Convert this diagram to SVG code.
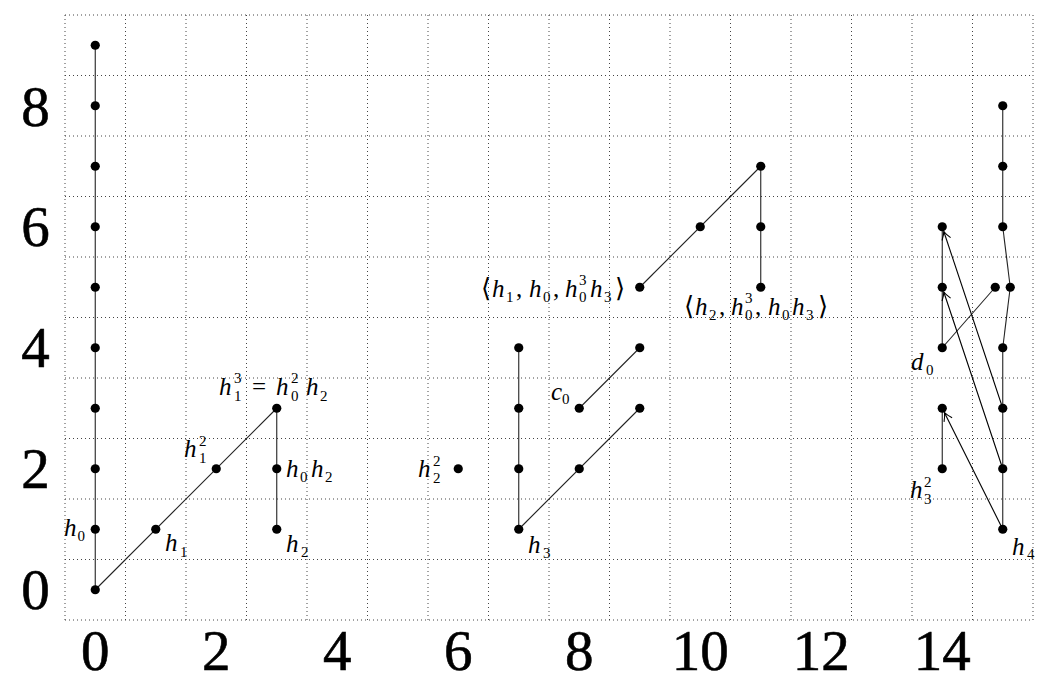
<svg xmlns="http://www.w3.org/2000/svg" width="1052" height="685" viewBox="0 0 1052 685">
<style>
.grid line{stroke:#444;stroke-width:1;stroke-dasharray:1 3}
.ax{font-family:"Liberation Serif","DejaVu Serif",serif;font-size:57px;fill:#000;stroke:#000;stroke-width:0.6;text-anchor:middle}
.dot{fill:#000}
.conn line{stroke:#222;stroke-width:1.1;fill:none}
.conn .arr{stroke:#000;stroke-width:1.1;marker-end:url(#ah)}
.lb{font-family:"Liberation Serif","DejaVu Serif",serif;font-size:25px;fill:#000}
.i{font-style:italic}
.s{font-size:15px;font-style:normal}
.br{font-family:"DejaVu Serif","DejaVu Sans",serif;font-size:26px;font-style:normal}
</style>
<defs>
<marker id="ah" markerUnits="userSpaceOnUse" markerWidth="16" markerHeight="16" refX="0" refY="0" viewBox="-10 -8 12 16" orient="auto">
<path d="M-8,-4.5 Q-3,-1 0,0 Q-3,1 -8,4.5" fill="none" stroke="#000" stroke-width="1.1"/>
</marker>
</defs>
<rect width="1052" height="685" fill="#fff"/>
<g class="grid">
<line x1="65" y1="15" x2="65" y2="620"/><line x1="125.5" y1="15" x2="125.5" y2="620"/><line x1="186" y1="15" x2="186" y2="620"/><line x1="246.5" y1="15" x2="246.5" y2="620"/><line x1="307" y1="15" x2="307" y2="620"/><line x1="367.5" y1="15" x2="367.5" y2="620"/><line x1="428" y1="15" x2="428" y2="620"/><line x1="488.5" y1="15" x2="488.5" y2="620"/><line x1="549" y1="15" x2="549" y2="620"/><line x1="609.5" y1="15" x2="609.5" y2="620"/><line x1="670" y1="15" x2="670" y2="620"/><line x1="730.5" y1="15" x2="730.5" y2="620"/><line x1="791" y1="15" x2="791" y2="620"/><line x1="851.5" y1="15" x2="851.5" y2="620"/><line x1="912" y1="15" x2="912" y2="620"/><line x1="972.5" y1="15" x2="972.5" y2="620"/><line x1="1033" y1="15" x2="1033" y2="620"/>
<line x1="65" y1="15" x2="1033" y2="15"/><line x1="65" y1="75.5" x2="1033" y2="75.5"/><line x1="65" y1="136" x2="1033" y2="136"/><line x1="65" y1="196.5" x2="1033" y2="196.5"/><line x1="65" y1="257" x2="1033" y2="257"/><line x1="65" y1="317.5" x2="1033" y2="317.5"/><line x1="65" y1="378" x2="1033" y2="378"/><line x1="65" y1="438.5" x2="1033" y2="438.5"/><line x1="65" y1="499" x2="1033" y2="499"/><line x1="65" y1="559.5" x2="1033" y2="559.5"/><line x1="65" y1="620" x2="1033" y2="620"/>
</g>
<g id="axis-labels">
<text class="ax" x="95.25" y="670">0</text><text class="ax" x="216.25" y="670">2</text><text class="ax" x="337.25" y="670">4</text><text class="ax" x="458.25" y="670">6</text><text class="ax" x="579.25" y="670">8</text><text class="ax" x="700.25" y="670">10</text><text class="ax" x="821.25" y="670">12</text><text class="ax" x="942.25" y="670">14</text>
<text class="ax" x="35.5" y="609">0</text><text class="ax" x="35.5" y="488">2</text><text class="ax" x="35.5" y="367">4</text><text class="ax" x="35.5" y="246">6</text><text class="ax" x="35.5" y="126">8</text>
</g>
<g class="conn" id="connectors">
<line x1="95.25" y1="589.75" x2="95.25" y2="45.25"/>
<line x1="95.25" y1="589.75" x2="276.75" y2="408.25"/>
<line x1="276.75" y1="529.25" x2="276.75" y2="408.25"/>
<line x1="518.75" y1="529.25" x2="518.75" y2="347.75"/>
<line x1="518.75" y1="529.25" x2="639.75" y2="408.25"/>
<line x1="579.25" y1="408.25" x2="639.75" y2="347.75"/>
<line x1="639.75" y1="287.25" x2="760.75" y2="166.25"/>
<line x1="760.75" y1="287.25" x2="760.75" y2="166.25"/>
<line x1="942.25" y1="468.75" x2="942.25" y2="408.25"/>
<line x1="942.25" y1="347.75" x2="942.25" y2="226.75"/>
<line x1="942.25" y1="347.75" x2="995.25" y2="287.25"/>
<line x1="1002.75" y1="529.25" x2="1002.75" y2="347.75"/>
<line x1="1002.75" y1="347.75" x2="1010.25" y2="287.25"/>
<line x1="1010.25" y1="287.25" x2="1002.75" y2="226.75"/>
<line x1="1002.75" y1="226.75" x2="1002.75" y2="105.75"/>
<line class="arr" x1="1002.75" y1="529.25" x2="944.5" y2="412.7"/>
<line class="arr" x1="1002.75" y1="468.75" x2="943.8" y2="292"/>
<line class="arr" x1="1002.75" y1="408.25" x2="943.8" y2="231.5"/>
</g>
<g id="n-0-0"><circle class="dot" cx="95.25" cy="589.75" r="4.6"/></g>
<g id="n-0-1"><circle class="dot" cx="95.25" cy="529.25" r="4.6"/><text class="lb"><tspan class="i" x="64" y="536">h</tspan><tspan class="s" x="77.5" y="541">0</tspan></text></g>
<g id="n-0-2"><circle class="dot" cx="95.25" cy="468.75" r="4.6"/></g>
<g id="n-0-3"><circle class="dot" cx="95.25" cy="408.25" r="4.6"/></g>
<g id="n-0-4"><circle class="dot" cx="95.25" cy="347.75" r="4.6"/></g>
<g id="n-0-5"><circle class="dot" cx="95.25" cy="287.25" r="4.6"/></g>
<g id="n-0-6"><circle class="dot" cx="95.25" cy="226.75" r="4.6"/></g>
<g id="n-0-7"><circle class="dot" cx="95.25" cy="166.25" r="4.6"/></g>
<g id="n-0-8"><circle class="dot" cx="95.25" cy="105.75" r="4.6"/></g>
<g id="n-0-9"><circle class="dot" cx="95.25" cy="45.25" r="4.6"/></g>
<g id="n-1-1"><circle class="dot" cx="155.75" cy="529.25" r="4.6"/><text class="lb"><tspan class="i" x="165" y="551">h</tspan><tspan class="s" x="180" y="557">1</tspan></text></g>
<g id="n-2-2"><circle class="dot" cx="216.25" cy="468.75" r="4.6"/><text class="lb"><tspan class="i" x="184" y="457">h</tspan><tspan class="s" x="199" y="446">2</tspan><tspan class="s" x="199" y="463">1</tspan></text></g>
<g id="n-3-1"><circle class="dot" cx="276.75" cy="529.25" r="4.6"/><text class="lb"><tspan class="i" x="286" y="552">h</tspan><tspan class="s" x="301" y="557">2</tspan></text></g>
<g id="n-3-2"><circle class="dot" cx="276.75" cy="468.75" r="4.6"/><text class="lb"><tspan class="i" x="286" y="477">h</tspan><tspan class="s" x="300" y="482">0</tspan><tspan class="i" x="311" y="477">h</tspan><tspan class="s" x="325" y="482">2</tspan></text></g>
<g id="n-3-3"><circle class="dot" cx="276.75" cy="408.25" r="4.6"/><text class="lb"><tspan class="i" x="219" y="395">h</tspan><tspan class="s" x="234" y="383">3</tspan><tspan class="s" x="234" y="401">1</tspan><tspan x="252" y="395">=</tspan><tspan class="i" x="276" y="395">h</tspan><tspan class="s" x="291" y="383">2</tspan><tspan class="s" x="291" y="401">0</tspan><tspan class="i" x="306" y="395">h</tspan><tspan class="s" x="320" y="401">2</tspan></text></g>
<g id="n-6-2"><circle class="dot" cx="458.25" cy="468.75" r="4.6"/><text class="lb"><tspan class="i" x="418" y="477">h</tspan><tspan class="s" x="433" y="466">2</tspan><tspan class="s" x="433" y="483">2</tspan></text></g>
<g id="n-7-1"><circle class="dot" cx="518.75" cy="529.25" r="4.6"/><text class="lb"><tspan class="i" x="528" y="553">h</tspan><tspan class="s" x="543" y="558">3</tspan></text></g>
<g id="n-7-2"><circle class="dot" cx="518.75" cy="468.75" r="4.6"/></g>
<g id="n-7-3"><circle class="dot" cx="518.75" cy="408.25" r="4.6"/></g>
<g id="n-7-4"><circle class="dot" cx="518.75" cy="347.75" r="4.6"/></g>
<g id="n-8-2"><circle class="dot" cx="579.25" cy="468.75" r="4.6"/></g>
<g id="n-8-3"><circle class="dot" cx="579.25" cy="408.25" r="4.6"/><text class="lb"><tspan class="i" x="551" y="400">c</tspan><tspan class="s" x="562" y="404">0</tspan></text></g>
<g id="n-9-3"><circle class="dot" cx="639.75" cy="408.25" r="4.6"/></g>
<g id="n-9-4"><circle class="dot" cx="639.75" cy="347.75" r="4.6"/></g>
<g id="n-9-5"><circle class="dot" cx="639.75" cy="287.25" r="4.6"/><text class="lb"><tspan class="br" x="481" y="297">⟨</tspan><tspan class="i" x="492" y="297">h</tspan><tspan class="s" x="506" y="302">1</tspan><tspan x="516" y="297">,</tspan><tspan class="i" x="529" y="297">h</tspan><tspan class="s" x="543" y="302">0</tspan><tspan x="553" y="297">,</tspan><tspan class="i" x="565" y="297">h</tspan><tspan class="s" x="579" y="285">3</tspan><tspan class="s" x="579" y="302">0</tspan><tspan class="i" x="590" y="297">h</tspan><tspan class="s" x="604" y="302">3</tspan><tspan class="br" x="615" y="297">⟩</tspan></text></g>
<g id="n-10-6"><circle class="dot" cx="700.25" cy="226.75" r="4.6"/></g>
<g id="n-11-5"><circle class="dot" cx="760.75" cy="287.25" r="4.6"/><text class="lb"><tspan class="br" x="684" y="315">⟨</tspan><tspan class="i" x="695" y="315">h</tspan><tspan class="s" x="709" y="320">2</tspan><tspan x="719" y="315">,</tspan><tspan class="i" x="731" y="315">h</tspan><tspan class="s" x="745" y="303">3</tspan><tspan class="s" x="745" y="320">0</tspan><tspan x="755" y="315">,</tspan><tspan class="i" x="768" y="315">h</tspan><tspan class="s" x="782" y="320">0</tspan><tspan class="i" x="792" y="315">h</tspan><tspan class="s" x="806" y="320">3</tspan><tspan class="br" x="818" y="315">⟩</tspan></text></g>
<g id="n-11-6"><circle class="dot" cx="760.75" cy="226.75" r="4.6"/></g>
<g id="n-11-7"><circle class="dot" cx="760.75" cy="166.25" r="4.6"/></g>
<g id="n-14-2"><circle class="dot" cx="942.25" cy="468.75" r="4.6"/><text class="lb"><tspan class="i" x="910" y="498">h</tspan><tspan class="s" x="924" y="487">2</tspan><tspan class="s" x="924" y="504">3</tspan></text></g>
<g id="n-14-3"><circle class="dot" cx="942.25" cy="408.25" r="4.6"/></g>
<g id="n-14-4"><circle class="dot" cx="942.25" cy="347.75" r="4.6"/><text class="lb"><tspan class="i" x="911" y="370">d</tspan><tspan class="s" x="926" y="375">0</tspan></text></g>
<g id="n-14-5"><circle class="dot" cx="942.25" cy="287.25" r="4.6"/></g>
<g id="n-14-6"><circle class="dot" cx="942.25" cy="226.75" r="4.6"/></g>
<g id="n-15-1"><circle class="dot" cx="1002.75" cy="529.25" r="4.6"/><text class="lb"><tspan class="i" x="1012" y="555">h</tspan><tspan class="s" x="1027" y="559">4</tspan></text></g>
<g id="n-15-2"><circle class="dot" cx="1002.75" cy="468.75" r="4.6"/></g>
<g id="n-15-3"><circle class="dot" cx="1002.75" cy="408.25" r="4.6"/></g>
<g id="n-15-4"><circle class="dot" cx="1002.75" cy="347.75" r="4.6"/></g>
<g id="n-15-5a"><circle class="dot" cx="995.25" cy="287.25" r="4.6"/></g>
<g id="n-15-5b"><circle class="dot" cx="1010.25" cy="287.25" r="4.6"/></g>
<g id="n-15-6"><circle class="dot" cx="1002.75" cy="226.75" r="4.6"/></g>
<g id="n-15-7"><circle class="dot" cx="1002.75" cy="166.25" r="4.6"/></g>
<g id="n-15-8"><circle class="dot" cx="1002.75" cy="105.75" r="4.6"/></g>
</svg>
